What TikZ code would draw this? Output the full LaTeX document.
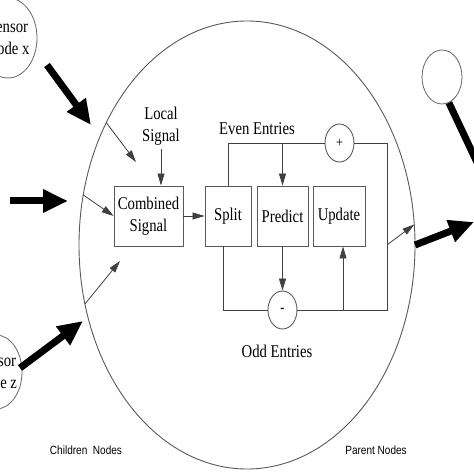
\documentclass[tikz,border=0pt]{standalone}
\usepackage{fontspec}
\setmainfont{Liberation Serif}[FakeStretch=0.82]
\newfontfamily\labelfont{Liberation Sans}[FakeStretch=0.84]
\usetikzlibrary{shapes.geometric,arrows.meta}
\begin{document}
\begin{tikzpicture}[x=1bp,y=-1bp,every text node part/.style={align=center},
	font=\fontsize{18}{22}\selectfont,
	block/.style={draw=black!65,line width=0.9bp,inner sep=0pt,minimum height=60bp},
	sumnode/.style={draw=black!65,ellipse,line width=0.9bp,inner sep=0pt,minimum width=29bp,minimum height=38bp,font=\fontsize{15}{15}\selectfont},
	sensor/.style={draw=black!60,ellipse,line width=0.8bp,inner xsep=-6bp,inner ysep=0pt},
	wire/.style={draw=black!75,line width=0.8bp},
	feed/.style={wire,-{Triangle[length=12bp,width=7bp]}},
	fat/.style={line width=7bp,-{Triangle[length=25bp,width=22bp]}},
	caption/.style={font=\labelfont\fontsize{12}{14}\selectfont}]
	\useasboundingbox (0,0) rectangle (474,474);
	\clip (0,0) rectangle (474,474);

	% the cluster head
	\node[draw=black!65,line width=0.9bp,ellipse,inner sep=0pt,outer sep=0pt,
		minimum width=336bp,minimum height=448bp] (cell) at (247,245) {};

	\node[block,minimum width=69bp] (comb) at (148.5,216) {Combined\\Signal};
	\node[block,minimum width=46bp] (split) at (228,216) {Split};
	\node[block,minimum width=51bp] (predict) at (282.5,216) {Predict};
	\node[block,minimum width=52bp] (update) at (339,216) {Update};
	\node[sumnode] (plus) at (339.5,143) {+};
	\node[sumnode] (minus) at (282.5,310) {\textbf{-}};

	\node (local) at (161,126) {Local\\Signal};
	\node (even) at (257,129) {Even Entries};
	\node (odd) at (277,351) {Odd Entries};
	\node[caption] (children) at (86,450) {Children~~Nodes};
	\node[caption] (parents) at (376,450) {Parent Nodes};

	% neighbours
	\node[sensor,minimum width=58bp,minimum height=80bp] (sx) at (8,38) {Sensor\\Node x};
	\node[sensor,minimum width=52bp,minimum height=74bp] (sz) at (-4,372) {Sensor\\Node z};
	\node[sensor,minimum width=40bp,minimum height=54bp] (parent) at (442,77) {};

	\coordinate (xtail) at (47,65);
	\coordinate (xhead) at (91,125);
	\coordinate (ytail) at (10,201);
	\coordinate (yhead) at (68,201);
	\coordinate (ztail) at (20,368);
	\coordinate (zhead) at (83,321);
	\coordinate (outhead) at (474,222);
	\coordinate (upward) at (490,190);
	\draw[fat] (xtail) -- (xhead);
	\draw[fat] (ytail) -- (yhead);
	\draw[fat] (ztail) -- (zhead);
	\draw[fat] (cell.east) -- (outhead);
	\draw[line width=7bp] (parent.-75) -- (upward);

	% inputs to the combiner
	\coordinate (in1) at (136,162);
	\coordinate (in3) at (120,261);
	\draw[feed] (cell.139) -- (in1);
	\draw[feed] (cell.163) -- (comb.west);
	\draw[feed] (cell.200.6) -- (in3);
	\draw[feed] (local.south) -- (local.south |- comb.north);
	\draw[feed] (comb) -- (split);

	% lifting steps
	\coordinate (ret) at (387,245);
	\coordinate (uin) at ([xshift=4bp]update.south);
	\draw[wire] (split.north) |- (plus.west);
	\draw[feed] (predict.north |- plus.west) -- (predict.north);
	\draw[wire] (plus.east) -| (ret |- minus.east) -- (minus.east);
	\draw[wire] ([xshift=-5bp]split.south) |- (minus.west);
	\draw[feed] (predict.south) -- (minus.north);
	\draw[feed] (uin |- minus.east) -- (uin);
	\draw[feed] (ret) -- (cell.7);

\end{tikzpicture}
\end{document}
